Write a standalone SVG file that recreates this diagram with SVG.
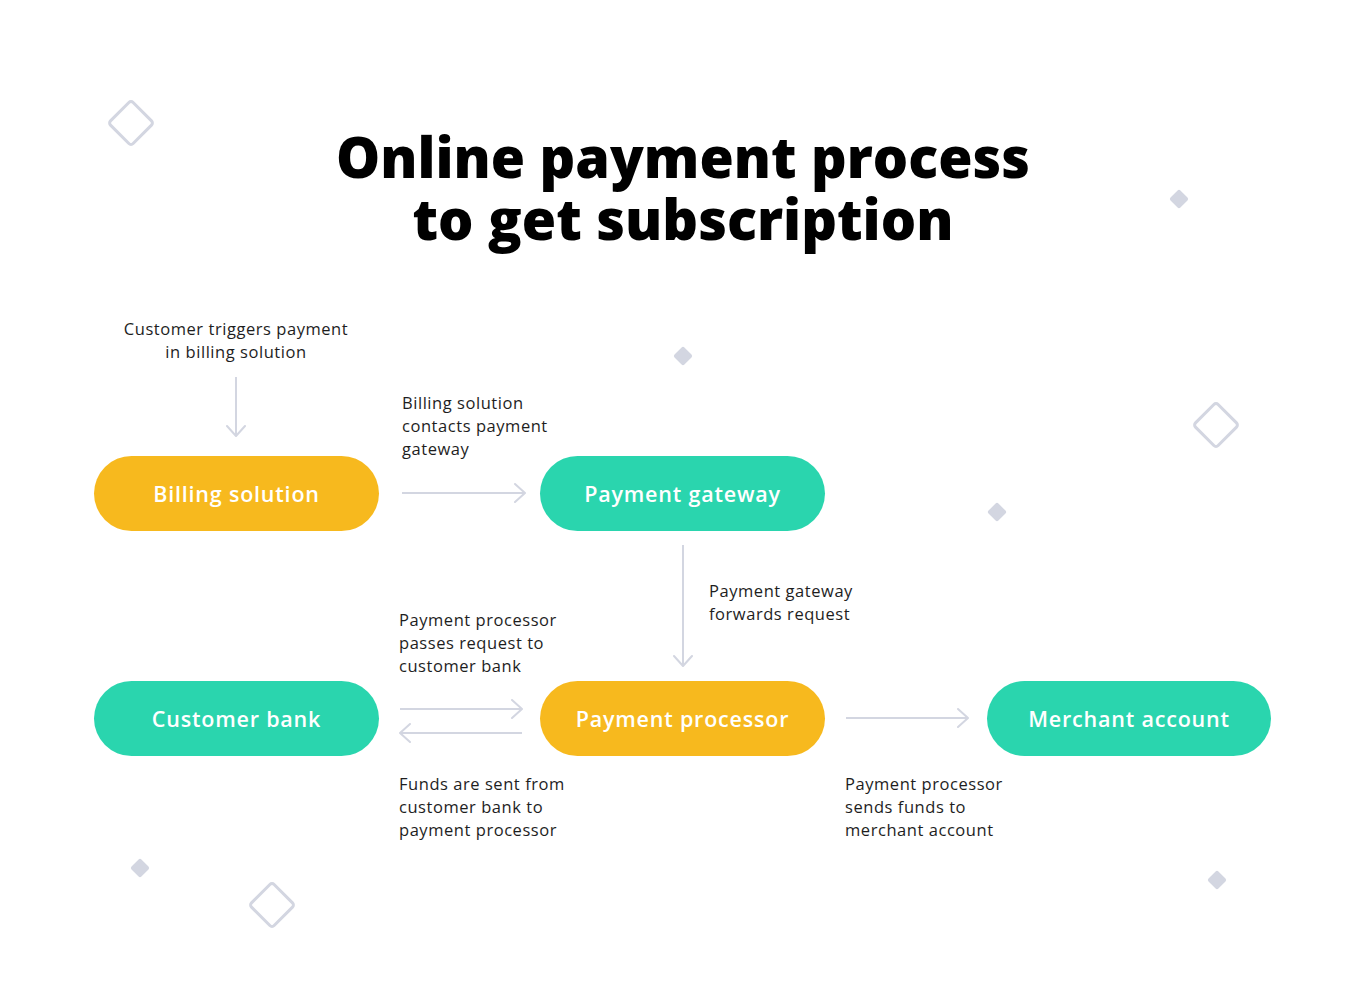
<svg xmlns="http://www.w3.org/2000/svg" width="1366" height="982" viewBox="0 0 1366 982">
<defs>
<style>
.title{font-family:"Open Sans","Liberation Sans",sans-serif;font-weight:800;font-size:57px;fill:#000;text-anchor:middle}
.node-label{font-family:"Open Sans","Liberation Sans",sans-serif;font-weight:600;font-size:21.5px;letter-spacing:0.8px;fill:#fff;text-anchor:middle}
.lbl{font-family:"Open Sans","Liberation Sans",sans-serif;font-size:16.5px;letter-spacing:0.55px;fill:#1e1e1e}
.yellow{fill:#F7B91E}
.green{fill:#2AD5AE}
.conn{stroke:#D3D6E1;stroke-width:2;fill:none}
.deco-o{fill:none;stroke:#D3D6E1;stroke-width:3;stroke-linejoin:round}
.deco-f{fill:#D3D6E1;stroke:#D3D6E1;stroke-width:2;stroke-linejoin:round}
</style>
<marker id="arr" viewBox="0 0 12 20" refX="11" refY="10" markerWidth="12" markerHeight="20" markerUnits="userSpaceOnUse" orient="auto">
<path d="M1,1 L11,10 L1,19" fill="none" stroke="#D3D6E1" stroke-width="2" stroke-linecap="round" stroke-linejoin="round"/>
</marker>
</defs>
<rect width="1366" height="982" fill="#fff"/>

<g id="decorations">
<rect class="deco-o" x="-16" y="-16" width="32" height="32" rx="3" transform="translate(131 123) rotate(45)"/>
<rect class="deco-o" x="-16" y="-16" width="32" height="32" rx="3" transform="translate(1216 425) rotate(45)"/>
<rect class="deco-o" x="-16" y="-16" width="32" height="32" rx="3" transform="translate(272 905) rotate(45)"/>
<rect class="deco-f" x="-6" y="-6" width="12" height="12" rx="1" transform="translate(1179 199) rotate(45)"/>
<rect class="deco-f" x="-6" y="-6" width="12" height="12" rx="1" transform="translate(683 356) rotate(45)"/>
<rect class="deco-f" x="-6" y="-6" width="12" height="12" rx="1" transform="translate(997 512) rotate(45)"/>
<rect class="deco-f" x="-6" y="-6" width="12" height="12" rx="1" transform="translate(140 868) rotate(45)"/>
<rect class="deco-f" x="-6" y="-6" width="12" height="12" rx="1" transform="translate(1217 880) rotate(45)"/>
</g>

<g id="title">
<text class="title" x="683" y="178" textLength="694" lengthAdjust="spacingAndGlyphs">Online payment process</text>
<text class="title" x="683" y="240" textLength="541" lengthAdjust="spacingAndGlyphs">to get subscription</text>
</g>

<g id="connectors">
<line class="conn" x1="236" y1="377" x2="236" y2="436" marker-end="url(#arr)"/>
<line class="conn" x1="402" y1="493" x2="525" y2="493" marker-end="url(#arr)"/>
<line class="conn" x1="683" y1="545" x2="683" y2="666" marker-end="url(#arr)"/>
<line class="conn" x1="400" y1="709" x2="522" y2="709" marker-end="url(#arr)"/>
<line class="conn" x1="522" y1="733" x2="400" y2="733" marker-end="url(#arr)"/>
<line class="conn" x1="846" y1="718" x2="968" y2="718" marker-end="url(#arr)"/>
</g>

<g id="labels">
<text class="lbl" text-anchor="middle"><tspan x="236" y="335">Customer triggers payment</tspan><tspan x="236" y="358">in billing solution</tspan></text>
<text class="lbl"><tspan x="402" y="409">Billing solution</tspan><tspan x="402" y="432">contacts payment</tspan><tspan x="402" y="455">gateway</tspan></text>
<text class="lbl"><tspan x="709" y="597">Payment gateway</tspan><tspan x="709" y="620">forwards request</tspan></text>
<text class="lbl"><tspan x="399" y="626">Payment processor</tspan><tspan x="399" y="649">passes request to</tspan><tspan x="399" y="672">customer bank</tspan></text>
<text class="lbl"><tspan x="399" y="790">Funds are sent from</tspan><tspan x="399" y="813">customer bank to</tspan><tspan x="399" y="836">payment processor</tspan></text>
<text class="lbl"><tspan x="845" y="790">Payment processor</tspan><tspan x="845" y="813">sends funds to</tspan><tspan x="845" y="836">merchant account</tspan></text>
</g>

<g id="node-billing">
<rect class="yellow" x="94" y="456" width="285" height="75" rx="37.5"/>
<text class="node-label" x="236.5" y="501.5">Billing solution</text>
</g>
<g id="node-gateway">
<rect class="green" x="540" y="456" width="285" height="75" rx="37.5"/>
<text class="node-label" x="682.5" y="501.5">Payment gateway</text>
</g>
<g id="node-bank">
<rect class="green" x="94" y="681" width="285" height="75" rx="37.5"/>
<text class="node-label" x="236.5" y="726.5">Customer bank</text>
</g>
<g id="node-processor">
<rect class="yellow" x="540" y="681" width="285" height="75" rx="37.5"/>
<text class="node-label" x="682.5" y="726.5">Payment processor</text>
</g>
<g id="node-merchant">
<rect class="green" x="987" y="681" width="284" height="75" rx="37.5"/>
<text class="node-label" x="1129" y="726.5">Merchant account</text>
</g>
</svg>
